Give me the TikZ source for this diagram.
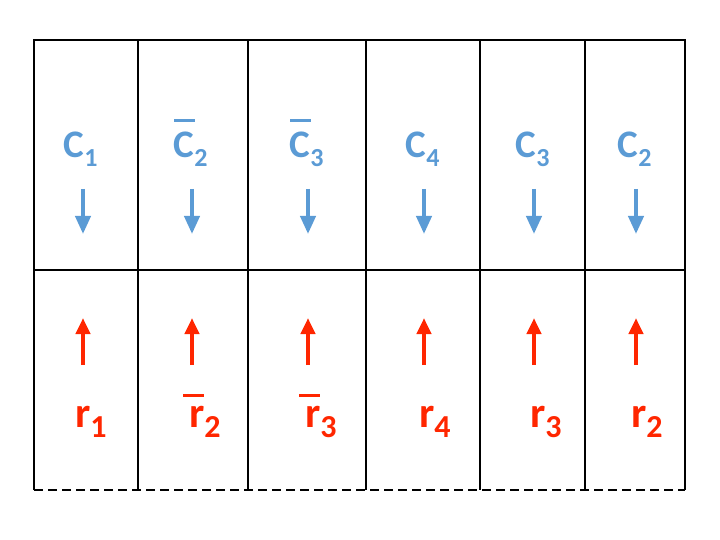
\documentclass[tikz,border=0pt]{standalone}
\usepackage{fontspec}
\setmainfont{Carlito}[BoldFont={Carlito Bold}]
\usetikzlibrary{arrows.meta}
\definecolor{cblue}{RGB}{91,155,213}
\definecolor{cred}{RGB}{255,38,0}
\newcommand\clab[2]{{\bfseries\fontsize{39}{39}\selectfont #1}\kern0.5pt\raisebox{-9pt}{\bfseries\fontsize{26}{26}\selectfont #2}}
\newcommand\rlab[2]{{\bfseries\fontsize{43}{43}\selectfont #1}\kern0pt\raisebox{-10pt}{\bfseries\fontsize{32}{32}\selectfont #2}}
\newcommand\cbar{\makebox[0pt][l]{\kern1pt\raisebox{36pt}{\rule{21pt}{3pt}}}}
\newcommand\rbar{\makebox[0pt][l]{\kern-6pt\raisebox{30.5pt}{\rule{21pt}{3pt}}}}
\tikzset{
  grid/.style={line width=2.8pt, black},
  clabel/.style={anchor=base west, inner sep=0pt, text=cblue},
  rlabel/.style={anchor=base west, inner sep=0pt, text=cred},
  downarrow/.style={draw=cblue, line width=4pt, -{Triangle[length=18pt,width=15pt]}},
  uparrow/.style={draw=cred, line width=4pt, -{Triangle[length=16pt,width=14pt]}},
}
\begin{document}
\begin{tikzpicture}[x=1pt,y=-1pt]
\useasboundingbox (0,0) rectangle (720,540);
% grid
\draw[grid] (34,490) -- (34,40) -- (685,40) -- (685,490);
\foreach \x in {138,248,366,480,585} \draw[grid] (\x,40) -- (\x,490);
\draw[grid] (34,270) -- (685,270);
\draw[grid, dash pattern=on 9pt off 5pt] (34,490) -- (685,490);
% arrows
\foreach \ax/\i in {83/1,192/2,308/3,424/4,534/5,636/6} {
  \coordinate (ct\i) at (\ax,189);
  \coordinate (ch\i) at (\ax,234);
  \coordinate (rt\i) at (\ax,365);
  \coordinate (rh\i) at (\ax,318);
  \draw[downarrow] (ct\i) -- (ch\i);
  \draw[uparrow] (rt\i) -- (rh\i);
}
% labels
\node[clabel] (c1) at (63,158) {\clab{C}{1}};
\node[clabel] (c2) at (173,158) {\clab{\cbar C}{2}};
\node[clabel] (c3) at (289,158) {\clab{\cbar C}{3}};
\node[clabel] (c4) at (405,158) {\clab{C}{4}};
\node[clabel] (c5) at (515,158) {\clab{C}{3}};
\node[clabel] (c6) at (617,158) {\clab{C}{2}};
\node[rlabel] (r1) at (75,427) {\rlab{r}{1}};
\node[rlabel] (r2) at (189,427) {\rlab{\rbar r}{2}};
\node[rlabel] (r3) at (305,427) {\rlab{\rbar r}{3}};
\node[rlabel] (r4) at (419,427) {\rlab{r}{4}};
\node[rlabel] (r5) at (530,427) {\rlab{r}{3}};
\node[rlabel] (r6) at (631,427) {\rlab{r}{2}};
\end{tikzpicture}
\end{document}
